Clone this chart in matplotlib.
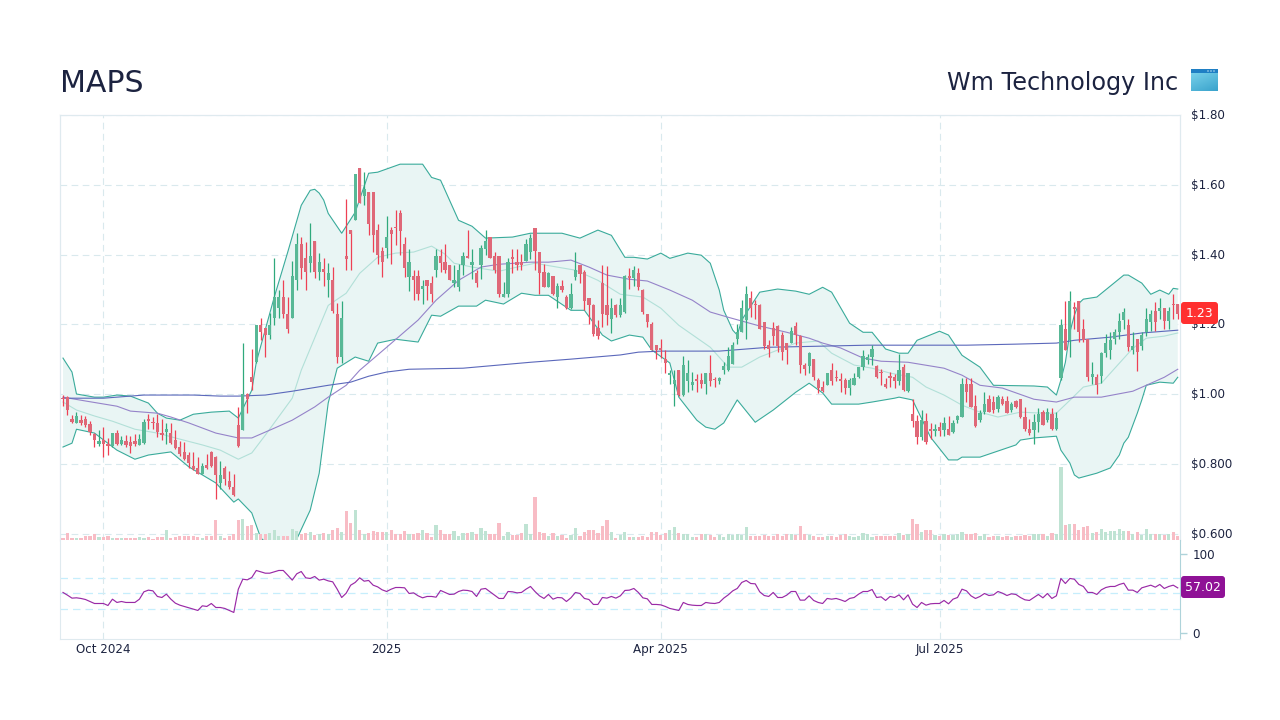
import numpy as np
import matplotlib
matplotlib.use('Agg')
import matplotlib.pyplot as plt
from matplotlib.patches import FancyBboxPatch, Rectangle, Circle
from matplotlib.transforms import ScaledTranslation

opens = [
    .989, .992, .929, .917, .925, .928, .914, .885, .856, .867,
    .858, .851, .887, .856, .864, .862, .864, .855, .860, .928,
    .920, .918, .887, .892, .887, .868, .847, .833, .825, .793,
    .788, .772, .796, .833, .820, .744, .787, .750, .734, .911,
    .898, 1.000, 1.049, 1.092, 1.198, 1.188, 1.168, 1.217, 1.248, 1.279,
    1.228, 1.217, 1.328, 1.430, 1.389, 1.377, 1.438, 1.349, 1.358, 1.328,
    1.328, 1.229, 1.107, 1.397, 1.470, 1.500, 1.649, 1.567, 1.578, 1.578,
    1.470, 1.411, 1.419, 1.470, 1.478, 1.518, 1.430, 1.336, 1.338, 1.338,
    1.300, 1.328, 1.317, 1.357, 1.397, 1.378, 1.369, 1.317, 1.307, 1.369,
    1.397, 1.369, 1.347, 1.369, 1.417, 1.449, 1.397, 1.397, 1.277, 1.286,
    1.390, 1.378, 1.379, 1.381, 1.407, 1.477, 1.407, 1.350, 1.307, 1.338,
    1.278, 1.310, 1.278, 1.248, 1.336, 1.369, 1.350, 1.276, 1.256, 1.188,
    1.317, 1.256, 1.215, 1.256, 1.226, 1.235, 1.338, 1.334, 1.348, 1.299,
    1.228, 1.202, 1.140, 1.130, 1.099, 1.054, 1.030, 1.068, .996, 1.038,
    1.025, 1.040, 1.040, 1.028, 1.059, 1.041, 1.038, 1.068, 1.068, 1.087,
    1.159, 1.178, 1.211, 1.276, 1.257, 1.256, 1.207, 1.140, 1.188, 1.196,
    1.168, 1.146, 1.147, 1.196, 1.166, 1.083, 1.081, 1.099, 1.040, 1.021,
    1.027, 1.068, 1.047, 1.040, 1.040, 1.018, 1.025, 1.049, 1.078, 1.097,
    1.105, 1.080, 1.061, 1.028, 1.049, 1.049, 1.038, 1.078, 1.009, .942,
    .923, .877, .923, .898, .895, .906, .897, .901, .892, .925,
    .933, 1.028, 1.028, .965, .926, .949, .987, .978, .958, .987,
    .980, .954, .980, .986, .933, .901, .897, .920, .949, .925,
    .944, .899, 1.047, 1.187, 1.154, 1.247, 1.268, 1.187, 1.157, 1.049,
    1.049, 1.051, 1.117, 1.127, 1.159, 1.178, 1.213, 1.197, 1.127, 1.159,
    1.137, 1.178, 1.206, 1.237, 1.238, 1.247, 1.209, 1.257, 1.257,
]
highs = [
    .997, .995, .941, .947, .939, .937, .924, .887, .898, .906,
    .873, .887, .898, .881, .882, .879, .885, .885, .927, .942,
    .933, .942, .927, .917, .917, .898, .866, .863, .833, .833,
    .818, .803, .828, .837, .822, .809, .793, .778, .772, .963,
    1.147, 1.002, 1.128, 1.198, 1.217, 1.188, 1.231, 1.389, 1.298, 1.326,
    1.277, 1.382, 1.462, 1.451, 1.436, 1.489, 1.438, 1.403, 1.389, 1.377,
    1.365, 1.260, 1.267, 1.558, 1.470, 1.632, 1.649, 1.637, 1.580, 1.580,
    1.487, 1.422, 1.511, 1.479, 1.529, 1.529, 1.449, 1.417, 1.357, 1.357,
    1.328, 1.328, 1.338, 1.417, 1.417, 1.429, 1.369, 1.369, 1.374, 1.408,
    1.470, 1.417, 1.357, 1.427, 1.470, 1.449, 1.408, 1.397, 1.322, 1.389,
    1.417, 1.417, 1.402, 1.445, 1.460, 1.477, 1.407, 1.374, 1.350, 1.338,
    1.318, 1.328, 1.283, 1.317, 1.407, 1.369, 1.355, 1.276, 1.259, 1.213,
    1.369, 1.367, 1.276, 1.257, 1.276, 1.340, 1.362, 1.367, 1.360, 1.302,
    1.229, 1.207, 1.140, 1.159, 1.127, 1.068, 1.068, 1.068, 1.108, 1.097,
    1.063, 1.057, 1.059, 1.061, 1.111, 1.049, 1.049, 1.092, 1.135, 1.149,
    1.202, 1.269, 1.309, 1.296, 1.269, 1.257, 1.207, 1.156, 1.207, 1.197,
    1.178, 1.146, 1.192, 1.207, 1.168, 1.088, 1.121, 1.099, 1.045, 1.038,
    1.059, 1.088, 1.068, 1.059, 1.045, 1.047, 1.059, 1.078, 1.126, 1.116,
    1.140, 1.083, 1.073, 1.045, 1.064, 1.057, 1.116, 1.085, 1.059, .987,
    .940, .954, .946, .916, .914, .920, .935, .938, .925, .940,
    1.047, 1.045, 1.045, .997, .954, 1.006, .997, .994, .997, .994,
    .994, .978, .984, .987, .963, .927, .942, .959, .954, .959,
    .959, .949, 1.216, 1.268, 1.295, 1.264, 1.268, 1.216, 1.159, 1.092,
    1.058, 1.120, 1.171, 1.178, 1.187, 1.232, 1.247, 1.216, 1.178, 1.159,
    1.178, 1.247, 1.240, 1.264, 1.276, 1.247, 1.249, 1.287, 1.258,
]
lows = [
    .965, .939, .917, .916, .911, .906, .882, .847, .852, .820,
    .824, .849, .854, .854, .849, .830, .852, .854, .858, .901,
    .901, .877, .868, .858, .858, .841, .823, .812, .787, .782,
    .772, .770, .784, .791, .698, .729, .739, .729, .707, .847,
    .898, .946, 1.011, 1.090, 1.155, 1.107, 1.159, 1.198, 1.217, 1.217,
    1.174, 1.217, 1.298, 1.331, 1.298, 1.350, 1.334, 1.328, 1.309, 1.277,
    1.231, 1.090, 1.088, 1.355, 1.357, 1.500, 1.548, 1.541, 1.455, 1.408,
    1.374, 1.336, 1.389, 1.374, 1.427, 1.398, 1.336, 1.296, 1.269, 1.269,
    1.258, 1.269, 1.265, 1.336, 1.350, 1.347, 1.326, 1.307, 1.296, 1.341,
    1.389, 1.331, 1.307, 1.331, 1.398, 1.389, 1.347, 1.277, 1.277, 1.279,
    1.347, 1.355, 1.355, 1.381, 1.388, 1.357, 1.288, 1.307, 1.307, 1.283,
    1.248, 1.293, 1.245, 1.245, 1.328, 1.317, 1.240, 1.202, 1.166, 1.159,
    1.192, 1.197, 1.175, 1.221, 1.221, 1.232, 1.302, 1.309, 1.297, 1.229,
    1.192, 1.126, 1.099, 1.102, 1.061, 1.030, .967, .994, .994, 1.006,
    1.011, 1.006, 1.016, .999, 1.022, 1.020, 1.028, 1.057, 1.066, 1.087,
    1.143, 1.178, 1.159, 1.221, 1.216, 1.185, 1.130, 1.106, 1.140, 1.121,
    1.097, 1.087, 1.145, 1.140, 1.059, 1.054, 1.059, 1.040, 1.002, 1.006,
    1.025, 1.025, 1.038, 1.006, 1.000, .997, 1.025, 1.047, 1.068, 1.087,
    1.083, 1.047, 1.025, 1.016, 1.019, 1.016, 1.025, 1.009, 1.006, .906,
    .858, .867, .858, .870, .879, .879, .879, .882, .887, .918,
    .933, .978, .963, .906, .920, .944, .949, .946, .949, .968,
    .946, .949, .959, .930, .895, .882, .858, .892, .911, .920,
    .897, .897, 1.039, 1.125, 1.106, 1.187, 1.149, 1.149, 1.037, 1.028,
    .999, 1.032, 1.106, 1.101, 1.144, 1.159, 1.187, 1.123, 1.116, 1.066,
    1.127, 1.165, 1.180, 1.180, 1.216, 1.187, 1.187, 1.216, 1.216,
]
closes = [
    .985, .954, .920, .937, .917, .911, .892, .868, .866, .858,
    .851, .887, .858, .868, .855, .852, .856, .871, .919, .923,
    .917, .892, .882, .899, .860, .844, .828, .813, .803, .784,
    .772, .793, .789, .795, .767, .767, .755, .732, .710, .851,
    1.000, .987, 1.035, 1.198, 1.177, 1.168, 1.198, 1.279, 1.279, 1.228,
    1.187, 1.338, 1.430, 1.360, 1.349, 1.397, 1.349, 1.378, 1.349, 1.348,
    1.239, 1.107, 1.217, 1.388, 1.460, 1.630, 1.548, 1.589, 1.487, 1.455,
    1.398, 1.379, 1.449, 1.458, 1.476, 1.468, 1.360, 1.378, 1.328, 1.288,
    1.309, 1.309, 1.288, 1.397, 1.376, 1.357, 1.328, 1.328, 1.357, 1.397,
    1.389, 1.378, 1.317, 1.418, 1.438, 1.389, 1.357, 1.286, 1.288, 1.378,
    1.388, 1.369, 1.369, 1.429, 1.448, 1.409, 1.347, 1.307, 1.348, 1.288,
    1.309, 1.299, 1.248, 1.288, 1.357, 1.345, 1.267, 1.254, 1.173, 1.166,
    1.229, 1.226, 1.248, 1.226, 1.256, 1.338, 1.334, 1.357, 1.307, 1.235,
    1.207, 1.127, 1.127, 1.127, 1.089, 1.061, 1.040, .996, 1.083, 1.061,
    1.034, 1.038, 1.030, 1.059, 1.038, 1.039, 1.047, 1.080, 1.108, 1.140,
    1.178, 1.248, 1.288, 1.248, 1.255, 1.185, 1.137, 1.130, 1.167, 1.137,
    1.121, 1.125, 1.181, 1.168, 1.083, 1.071, 1.119, 1.049, 1.016, 1.009,
    1.059, 1.038, 1.045, 1.038, 1.018, 1.040, 1.047, 1.078, 1.108, 1.107,
    1.128, 1.049, 1.059, 1.019, 1.047, 1.038, 1.068, 1.011, 1.059, .923,
    .876, .925, .863, .895, .897, .895, .918, .882, .918, .937,
    1.028, 1.006, .963, .908, .946, .970, .949, .954, .990, .971,
    .946, .970, .963, .933, .901, .889, .920, .942, .911, .949,
    .899, .930, 1.197, 1.125, 1.268, 1.245, 1.178, 1.156, 1.049, 1.058,
    1.025, 1.117, 1.147, 1.156, 1.178, 1.208, 1.235, 1.135, 1.139, 1.120,
    1.168, 1.216, 1.228, 1.206, 1.247, 1.209, 1.237, 1.255, 1.230,
]
# volume in millions of shares
volumes = [
    .23, .67, .23, .17, .17, .37, .37, .57, .27, .27,
    .37, .17, .20, .20, .20, .20, .20, .27, .17, .27,
    .13, .27, .27, 1.00, .20, .27, .40, .40, .40, .40,
    .27, .20, .40, .40, 2.00, .40, .20, .40, .57, 2.00,
    2.10, 1.40, 1.50, .67, .57, .57, .67, 1.00, .40, .40,
    .40, 1.07, .90, .57, .67, .77, .50, .57, .67, .57,
    1.00, 1.17, .77, 2.90, 1.67, 3.00, 1.00, .57, .67, .90,
    .77, .83, .77, 1.00, .57, .57, .90, .57, .57, .67,
    1.00, .70, .33, 1.50, 1.00, .57, .57, .90, .40, .67,
    .67, .80, .57, 1.17, .90, .57, .57, 1.67, .40, .77,
    .50, .47, .67, 1.60, .57, 4.30, .77, .67, .40, .67,
    .40, .50, .23, .50, 1.17, .40, .77, 1.00, 1.00, .67,
    1.40, 2.00, .77, .23, .50, .77, .33, .33, .33, .40,
    .33, .77, .77, .50, .67, 1.00, 1.27, .67, .57, .57,
    .33, .33, .57, .57, .50, .33, .50, .33, .57, .47,
    .57, .50, 1.27, .40, .40, .40, .47, .40, .40, .57,
    .40, .57, .57, .50, 1.40, .57, .50, .40, .33, .33,
    .40, .40, .33, .47, .57, .40, .33, .40, .67, .57,
    .33, .40, .40, .40, .40, .40, .67, .50, .57, 2.10,
    1.60, .77, 1.00, 1.00, .50, .40, .57, .50, .50, .57,
    .77, .57, .57, .67, .40, .57, .33, .40, .40, .33,
    .40, .33, .40, .40, .50, .40, .57, .57, .57, .40,
    .67, .57, 7.30, 1.50, 1.60, 1.60, 1.00, 1.33, 1.40, .67,
    .80, 1.10, .80, .90, .90, 1.10, .93, .90, .57, .80,
    .50, 1.10, .57, .57, .57, .50, .57, .80, .40,
]
rsi = [
    51.3, 47.9, 44.2, 44.6, 43.8, 42.5, 40.0, 37.5, 37.5, 37.5,
    35.0, 42.9, 38.8, 40.0, 38.8, 38.8, 38.8, 42.9, 52.1, 54.2,
    53.3, 46.3, 45.0, 49.2, 42.9, 37.9, 35.4, 33.8, 32.1, 30.4,
    28.8, 34.6, 33.8, 37.5, 32.5, 32.5, 31.3, 28.8, 26.3, 55.4,
    67.9, 67.1, 70.0, 78.8, 77.1, 75.4, 75.4, 77.1, 78.8, 78.8,
    72.9, 66.7, 74.6, 77.5, 69.6, 68.8, 71.3, 66.7, 67.9, 65.8,
    64.6, 55.4, 45.0, 50.4, 60.4, 63.8, 69.6, 65.4, 66.3, 60.4,
    58.3, 54.6, 52.5, 55.4, 57.5, 57.5, 57.1, 50.0, 50.8, 47.1,
    44.6, 46.3, 46.3, 45.4, 53.8, 51.3, 48.8, 49.2, 52.5, 54.2,
    53.8, 52.5, 46.3, 55.4, 56.3, 52.1, 47.9, 43.8, 43.8, 52.5,
    52.1, 50.8, 51.3, 55.4, 58.8, 52.5, 47.1, 43.8, 48.8, 42.9,
    45.0, 44.6, 40.0, 44.6, 51.3, 50.0, 43.8, 42.5, 36.3, 36.3,
    45.0, 44.2, 46.3, 44.2, 47.1, 53.8, 54.2, 56.3, 51.3, 44.6,
    43.3, 36.3, 36.3, 35.8, 33.8, 31.3, 30.0, 28.8, 38.8, 36.3,
    35.4, 35.0, 35.0, 38.8, 37.9, 37.5, 38.8, 44.2, 48.3, 53.3,
    56.3, 63.8, 66.3, 62.5, 62.1, 52.1, 47.5, 46.3, 51.3, 45.0,
    45.0, 47.9, 52.5, 52.5, 41.7, 41.7, 47.1, 41.3, 38.8, 37.5,
    43.8, 42.9, 43.8, 42.1, 40.0, 43.8, 45.0, 49.2, 52.5, 52.5,
    55.0, 45.0, 45.8, 41.3, 46.3, 45.0, 48.3, 42.1, 48.3, 36.7,
    32.5, 38.8, 35.4, 37.1, 37.5, 37.5, 41.3, 37.1, 42.9, 45.0,
    55.4, 53.3, 47.1, 43.8, 46.3, 50.0, 47.5, 48.3, 52.5, 50.4,
    47.5, 49.6, 48.8, 45.0, 42.1, 41.3, 45.0, 48.8, 44.6, 50.0,
    43.8, 47.1, 68.8, 62.5, 68.8, 67.9, 61.3, 58.8, 51.3, 51.3,
    48.8, 54.6, 57.5, 58.8, 58.8, 61.3, 62.9, 54.2, 54.2, 51.3,
    57.1, 58.8, 60.4, 57.9, 61.3, 56.3, 58.8, 60.4, 57.02,
]

# indicator lines, each with the sessions it was read at
upper_days = [
    0, 2, 3, 7, 9, 12, 15, 19, 21, 23, 26, 29, 33, 37, 39, 42, 43, 47, 50, 53,
    55, 56, 57, 58, 59, 62, 65, 68, 70, 75, 80, 82, 84, 88, 91, 94, 100, 104, 111,
    115, 119, 122, 125, 127, 130, 133, 135, 139, 142, 144, 146, 147, 149, 150, 151,
    155, 159, 163, 166, 169, 171, 175, 178, 180, 183, 186, 188, 190, 195, 197, 200,
    204, 207, 216, 219, 221, 222, 223, 224, 225, 226, 227, 230, 236, 237, 240,
    242, 244, 246, 247, 248,
]
upper_band = [
    1.103, 1.063, 1.000, .991, .991, .997, .994, .974, .945, .931, .925, .942,
    .948, .951, .931, 1.011, 1.091, 1.278, 1.407, 1.541, 1.584, 1.587, 1.576,
    1.556, 1.518, 1.461, 1.521, 1.633, 1.636, 1.659, 1.659, 1.621, 1.613, 1.498,
    1.481, 1.447, 1.450, 1.461, 1.461, 1.447, 1.470, 1.455, 1.392, 1.392, 1.387,
    1.404, 1.389, 1.404, 1.398, 1.375, 1.298, 1.240, 1.183, 1.169, 1.212, 1.292,
    1.301, 1.295, 1.286, 1.306, 1.292, 1.203, 1.177, 1.177, 1.129, 1.117, 1.117,
    1.154, 1.180, 1.169, 1.111, 1.077, 1.025, 1.023, 1.020, .997, 1.040, 1.091,
    1.177, 1.226, 1.260, 1.272, 1.278, 1.341, 1.341, 1.318, 1.286, 1.298, 1.286,
    1.303, 1.301,
]
lower_days = [
    0, 2, 3, 7, 12, 16, 19, 24, 28, 34, 38, 39, 42, 44, 48, 50, 52, 55, 57, 59,
    61, 65, 68, 70, 74, 79, 82, 84, 88, 92, 94, 98, 102, 105, 108, 113, 116, 120,
    122, 126, 129, 131, 135, 137, 141, 143, 145, 147, 150, 154, 158, 163, 166, 169,
    171, 177, 180, 185, 186, 189, 193, 197, 199, 200, 204, 212, 213, 216, 221, 222,
    224, 225, 226, 230, 233, 235, 236, 237, 239, 240, 241, 244, 247, 248,
]
lower_band = [
    .848, .859, .899, .888, .839, .813, .825, .834, .791, .745, .690, .699, .659,
    .587, .544, .536, .584, .667, .773, .974, 1.074, 1.106, 1.094, 1.146, 1.157,
    1.149, 1.226, 1.223, 1.252, 1.252, 1.269, 1.258, 1.289, 1.283, 1.283, 1.240,
    1.240, 1.169, 1.152, 1.169, 1.163, 1.126, 1.089, .991, .925, .905, .899, .917,
    .983, .919, .954, 1.005, 1.031, 1.003, .971, .971, .977, .988, .991, .983,
    .876, .811, .811, .819, .819, .854, .868, .874, .879, .839, .802, .768, .759,
    .773, .788, .825, .859, .876, .945, .983, 1.025, 1.034, 1.031, 1.048,
]
sma20_days = [
    0, 3, 7, 11, 16, 21, 25, 31, 35, 39, 42, 45, 51, 53, 59, 63, 66, 70, 74, 78,
    82, 85, 87, 91, 97, 100, 105, 109, 114, 119, 124, 129, 133, 137, 144, 148,
    151, 155, 159, 163, 168, 171, 176, 180, 184, 189, 192, 196, 200, 204, 208,
    213, 218, 221, 224, 227, 231, 234, 238, 241, 245, 248,
]
sma20 = [
    .977, .954, .937, .922, .899, .888, .874, .854, .839, .813, .831, .882, .988,
    1.068, 1.254, 1.289, 1.346, 1.392, 1.404, 1.407, 1.424, 1.401, 1.375, 1.364,
    1.352, 1.361, 1.375, 1.366, 1.355, 1.326, 1.286, 1.278, 1.246, 1.197, 1.134,
    1.077, 1.077, 1.106, 1.126, 1.146, 1.152, 1.117, 1.083, 1.074, 1.060, 1.048,
    1.020, .997, .968, .948, .934, .948, .945, .945, .982, 1.020, 1.031, 1.074,
    1.131, 1.160, 1.166, 1.175,
]
sma50_days = [
    0, 5, 12, 15, 21, 24, 28, 34, 39, 42, 47, 51, 56, 59, 63, 66, 72, 79, 83, 88,
    93, 97, 104, 108, 113, 117, 121, 126, 130, 135, 140, 144, 148, 155, 161, 166,
    169, 173, 178, 182, 188, 196, 200, 204, 209, 216, 221, 225, 231, 238, 241,
    245, 248,
]
sma50 = [
    .991, .980, .965, .951, .945, .934, .917, .888, .874, .874, .902, .925, .963,
    .991, 1.025, 1.068, 1.134, 1.212, 1.269, 1.326, 1.364, 1.372, 1.378, 1.378,
    1.384, 1.364, 1.341, 1.329, 1.324, 1.298, 1.269, 1.235, 1.220, 1.195, 1.177,
    1.160, 1.146, 1.132, 1.103, 1.094, 1.091, 1.074, 1.054, 1.025, 1.017, .985,
    .977, .991, .991, 1.008, 1.025, 1.048, 1.071,
]
sma200_days = [
    0, 9, 18, 29, 35, 39, 45, 51, 59, 64, 68, 72, 77, 89, 104, 113, 124, 128, 133,
    146, 157, 168, 179, 196, 201, 212, 221, 225, 233, 240, 248,
]
sma200 = [
    .988, .988, .997, .997, .994, .994, .997, 1.008, 1.025, 1.034, 1.051, 1.063,
    1.071, 1.074, 1.091, 1.100, 1.112, 1.120, 1.123, 1.123, 1.134, 1.137, 1.140,
    1.140, 1.140, 1.143, 1.146, 1.154, 1.163, 1.175, 1.183,
]

price_ticks = [1.8, 1.6, 1.4, 1.2, 1.0, 0.8, 0.6]
price_labels = ['$1.80', '$1.60', '$1.40', '$1.20', '$1.00', '$0.800', '$0.600']
date_days = [9, 72, 133, 195]
date_labels = ['Oct 2024', '2025', 'Apr 2025', 'Jul 2025']
rsi_levels = [70, 50, 30]

INK = '#1c2340'
GRID = '#d9e9ed'
EDGE = '#dfeaef'
UP_BODY, UP_WICK = '#58b896', '#2fa97c'
DOWN_BODY, DOWN_WICK = '#df6878', '#ee4054'
W, H = 1280, 720

plt.rcParams['font.family'] = 'DejaVu Sans'
fig = plt.figure(figsize=(W / 100, H / 100), dpi=100, facecolor='white')


def pane(top, bottom):
    return fig.add_axes([60 / W, 1 - bottom / H, 1120 / W, (bottom - top) / H])


ax = pane(115, 540)
ax_vol = ax.twinx()
ax_rsi = pane(540, 639)
xlim = (-0.667, 248.5)

days = np.arange(len(closes))
is_up = np.array(closes) >= np.array(opens)

# price pane
ax.fill(upper_days + lower_days[::-1], upper_band + lower_band[::-1],
        color='#e9f5f4', lw=0, zorder=1.5)
ax.plot(upper_days, upper_band, color='#3aab9b', lw=0.8, zorder=2)
ax.plot(lower_days, lower_band, color='#3aab9b', lw=0.8, zorder=2)
ax.plot(sma20_days, sma20, color='#b2e0d8', lw=0.8, zorder=2)
ax.plot(sma50_days, sma50, color='#9583c9', lw=0.8, zorder=2.1)
ax.plot(sma200_days, sma200, color='#5b68bb', lw=0.8, zorder=2.1)

wick_colors = [UP_WICK if u else DOWN_WICK for u in is_up]
body_colors = [UP_BODY if u else DOWN_BODY for u in is_up]
ax.vlines(days, lows, highs, colors=wick_colors, lw=0.9, zorder=3)
body_low = np.minimum(opens, closes)
body_high = np.maximum(opens, closes)
ax.bar(days, np.maximum(body_high - body_low, 0.004), bottom=body_low, width=0.72,
       color=body_colors, lw=0, zorder=3.1)

ax.set_xlim(xlim)
ax.set_ylim(0.5814, 1.7992)
ax.yaxis.tick_right()
ax.set_yticks(price_ticks)
ax.set_yticklabels(price_labels)
ax.tick_params(axis='y', length=0, pad=8, labelsize=8.6, labelcolor=INK)
ax.set_xticks(date_days)
ax.tick_params(axis='x', length=0, labelbottom=False)
ax.grid(True, color=GRID, lw=0.8, dashes=(6, 4))
ax.set_axisbelow(True)
for label in ax.get_yticklabels():
    label.set_transform(label.get_transform()
                        + ScaledTranslation(0, 0.8 / 100, fig.dpi_scale_trans))

# volume shares the price pane along its bottom edge
vol_colors = ['#bfe3d3' if u else '#f8bcc5' for u in is_up]
ax_vol.bar(days, volumes, width=0.72, color=vol_colors, lw=0, zorder=2)
ax_vol.set_ylim(0, 42.5)
ax_vol.set_yticks([])

for a in (ax, ax_vol):
    a.spines['bottom'].set_visible(False)
    for side in ('top', 'left', 'right'):
        a.spines[side].set_color(EDGE)

# RSI pane
ax_rsi.plot(days, rsi, color='#9a2aa6', lw=0.85, zorder=3)
ax_rsi.set_xlim(xlim)
ax_rsi.set_ylim(-6.9, 116.9)
for level in rsi_levels:
    ax_rsi.axhline(level, color='#c6eefc', lw=0.9, dashes=(6, 4), zorder=1)
for day in date_days:
    ax_rsi.axvline(day, color=GRID, lw=0.8, dashes=(6, 4), zorder=1)
ax_rsi.yaxis.tick_right()
ax_rsi.set_yticks([100, 0])
ax_rsi.tick_params(axis='y', length=5, width=1, color='#aed3da', pad=4,
                   labelsize=8.6, labelcolor=INK)
ax_rsi.set_xticks(date_days)
ax_rsi.set_xticklabels(date_labels)
ax_rsi.tick_params(axis='x', length=0, pad=3, labelsize=8.6, labelcolor=INK)
ax_rsi.spines['top'].set_visible(False)
ax_rsi.spines['left'].set_color(EDGE)
ax_rsi.spines['bottom'].set_color(EDGE)
ax_rsi.spines['right'].set_color('#aed3da')

# last-value tags to the right of the panes
fig_ax = fig.add_axes([0, 0, 1, 1], zorder=10)
fig_ax.set_xlim(0, W)
fig_ax.set_ylim(H, 0)
fig_ax.axis('off')
for x0, y0, w, h, color, label in [
    (1181, 302, 37, 22, '#ff3030', f'{closes[-1]:.2f}'),
    (1181, 576, 44, 22, '#8f1296', f'{rsi[-1]:.2f}'),
]:
    fig_ax.add_patch(FancyBboxPatch((x0 + 2, y0 + 2), w - 4, h - 4,
                                    boxstyle='round,pad=2,rounding_size=3',
                                    fc=color, ec='none'))
    fig_ax.text(x0 + w / 2, y0 + h / 2 + 0.5, label, color='white', fontsize=9,
                ha='center', va='center')

# header
fig.text(60 / W, 1 - 83 / H, 'MAPS', fontsize=21.6, color=INK, va='center', ha='left')
fig.text(1178 / W, 1 - 83 / H, 'Wm Technology Inc', fontsize=17.2, color=INK,
         va='center', ha='right')

# application icon beside the company name
shade = np.linspace(0, 1, 32).reshape(-1, 1) + np.linspace(0, 0.5, 32).reshape(1, -1)
fig_ax.imshow(shade, extent=(1191, 1218, 91, 69), aspect='auto', zorder=1,
              cmap=matplotlib.colors.LinearSegmentedColormap.from_list(
                  'sky', ['#7fd6ee', '#3aa3cc']))
fig_ax.add_patch(Rectangle((1191, 69), 27, 4, fc='#1f7fc4', ec='none', zorder=2))
for cx in (1208, 1211, 1214):
    fig_ax.add_patch(Circle((cx, 71), 0.7, fc='#d5eefa', ec='none', zorder=3))
fig_ax.set_xlim(0, W)
fig_ax.set_ylim(H, 0)

fig.savefig('out.png', dpi=100)
